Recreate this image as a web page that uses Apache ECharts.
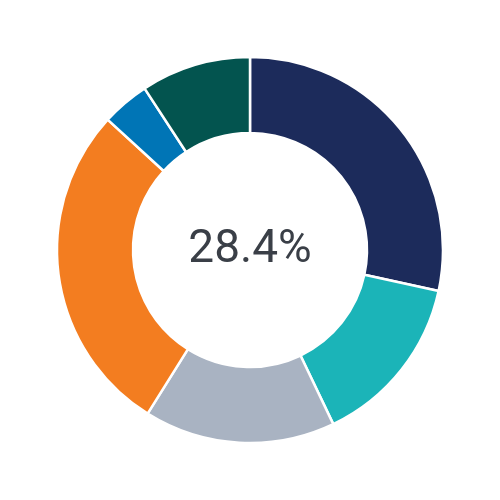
<!DOCTYPE html>
<html>
<head>
<meta charset="utf-8">
<script src="https://cdn.jsdelivr.net/npm/echarts@6/dist/echarts.min.js"></script>
<style>
  html, body { margin: 0; padding: 0; background: #fff; }
  #chart { width: 500px; height: 500px; }
</style>
</head>
<body>
<div id="chart"></div>
<script>
// slices, clockwise from 12 o'clock
var names = ['A', 'B', 'C', 'D', 'E', 'F'];
var values = [28.4, 14.5, 16.0, 27.9, 4.0, 9.2];
var colors = ['#1c2b5b', '#1bb4b8', '#a9b3c2', '#f37d20', '#0075b6', '#03544f'];
var centerText = '28.4%';

var data = names.map(function (n, i) {
    return { name: n, value: values[i] };
});

var myChart = echarts.init(document.getElementById('chart'));
var option = {
    animation: false,
    color: colors,
    title: {
        text: centerText,
        left: 'center',
        top: 'middle',
        textStyle: {
            fontFamily: 'Roboto',
            fontSize: 46,
            fontWeight: 'normal',
            color: '#3a3f47'
        }
    },
    series: [{
        type: 'pie',
        radius: ['46.8%', '77.2%'],
        center: ['50%', '50%'],
        startAngle: 90,
        clockwise: true,
        label: { show: false },
        labelLine: { show: false },
        itemStyle: {
            borderColor: '#fff',
            borderWidth: 2.5
        },
        data: data
    }]
};
myChart.setOption(option);
</script>
</body>
</html>
